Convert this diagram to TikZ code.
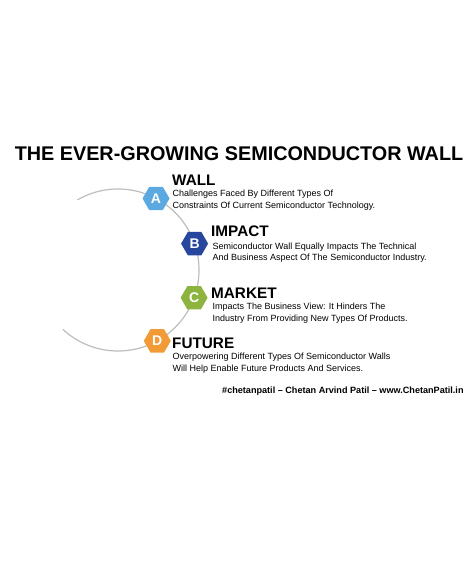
\documentclass[tikz,border=0pt]{standalone}
\usepackage{fontspec}
\setmainfont{Liberation Sans}
\usetikzlibrary{shapes.geometric}
\definecolor{hexA}{HTML}{5BA9E0}
\definecolor{hexB}{HTML}{27479E}
\definecolor{hexC}{HTML}{8DB43E}
\definecolor{hexD}{HTML}{F29A35}
\definecolor{wallgray}{HTML}{BDBDBD}

\begin{document}
\begin{tikzpicture}[x=1pt,y=-1pt,
    hexa/.style={regular polygon,regular polygon sides=6,minimum size=27pt,
	inner sep=0pt,text=white,font=\bfseries\fontsize{14}{14}\selectfont},
    head/.style={anchor=base west,inner sep=0pt,
	font=\bfseries\fontsize{15.3}{15.3}\selectfont},
    desc/.style={anchor=base west,inner sep=0pt,align=left,
	font=\fontsize{9}{11.5}\selectfont}]
\useasboundingbox (0,0) rectangle (474,587);
\node (title) [anchor=base,inner sep=0pt,font=\bfseries\fontsize{19.8}{19.8}\selectfont]
    at (239,160.7) {THE EVER-GROWING SEMICONDUCTOR WALL};
% the wall: an open circle, the four steps sit on it
\coordinate (ctr) at (118,270);
\draw [wallgray,line width=1.2pt] (ctr) ++(-120:81) arc [start angle=-120,end angle=133,radius=81];
\path
    (ctr) ++(-62:81) node (hA) [hexa,fill=hexA] {A}
    (ctr) ++(-19:81) node (hB) [hexa,fill=hexB] {B}
    (ctr) ++(20:81)  node (hC) [hexa,fill=hexC] {C}
    (ctr) ++(61:81)  node (hD) [hexa,fill=hexD] {D};
% base of a two-line text is its last line
\node (wall) [head] at (172,185) {WALL};
\node (wallt) [desc] at (172.5,208.2)
    {Challenges Faced By Different Types Of\\Constraints Of Current Semiconductor Technology.};
\node (impact) [head] at (211,236.7) {IMPACT};
\node (impactt) [desc] at (212.5,260.5)
    {Semiconductor Wall Equally Impacts The Technical\\And Business Aspect Of The Semiconductor Industry.};
\node (market) [head] at (211,298) {MARKET};
\node (markett) [desc] at (212.5,321)
    {Impacts The Business View: It Hinders The\\Industry From Providing New Types Of Products.};
\node (future) [head] at (172,348) {FUTURE};
\node (futuret) [desc] at (172.5,371)
    {Overpowering Different Types Of Semiconductor Walls\\Will Help Enable Future Products And Services.};
\node (credit) [anchor=base west,inner sep=0pt,font=\bfseries\fontsize{9.1}{9.1}\selectfont]
    at (222,393) {\#chetanpatil – Chetan Arvind Patil – www.ChetanPatil.in};
\end{tikzpicture}
\end{document}
